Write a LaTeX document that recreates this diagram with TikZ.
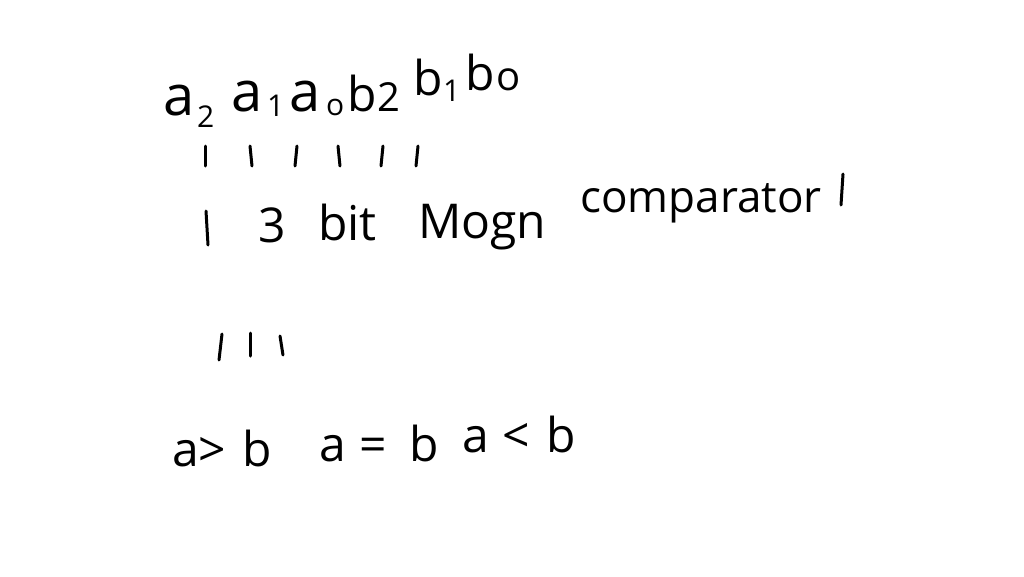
\documentclass[tikz,border=0pt]{standalone}
\usepackage{fontspec}
\setmainfont{Open Sans}
\begin{document}
\begin{tikzpicture}[x=1pt,y=-1pt,
  hw/.style={anchor=base west,inner sep=0pt,font=\fontsize{56}{64}\selectfont},
  hwb/.style={anchor=base west,inner sep=0pt,font=\fontsize{48}{56}\selectfont},
  hws/.style={anchor=base west,inner sep=0pt,font=\fontsize{30}{36}\selectfont},
  hwm/.style={anchor=base west,inner sep=0pt,font=\fontsize{40}{48}\selectfont},
  hwt/.style={anchor=base west,inner sep=0pt,font=\fontsize{48}{56}\selectfont},
  hwc/.style={anchor=base west,inner sep=0pt,font=\fontsize{44}{52}\selectfont},
  tick/.style={line width=3pt,line cap=round}]
\useasboundingbox[fill=white] (0,0) rectangle (1024,576);
% top row: inputs
\node[hw]  (a2) at (163,115) {a};
\node[hws] (a2s) at (197,127) {2};
\node[hw]  (a1) at (231,111) {a};
\node[hws] (a1s) at (267,116) {1};
\node[hw]  (a0) at (289,111) {a};
\node[hws] (a0s) at (326,115) {o};
\node[hwb] (b2) at (347,111) {b};
\node[hwm] (b2s) at (377,111) {2};
\node[hwb] (b1) at (413,95) {b};
\node[hws] (b1s) at (443,101) {1};
\node[hwb] (b0) at (465,90) {b};
\node[hwm] (b0s) at (496,90) {o};
% input ticks
\foreach \x/\t in {205/0,250/2,297/-2,338/2,383/-2,418/-2}
  \draw[tick] (\x,146) -- (\x+\t,166);
% comparator label
\draw[tick] (206,211) -- (208,245);
\node[hwt] (three) at (258,242) {3};
\node[hwt] (bit) at (318,240) {bit};
\node[hwt] (mogn) at (418,238) {Mogn};
\node[hwc] (comp) at (580,212) {comparator};
\draw[tick] (843,174) -- (841,205);
% output ticks
\draw[tick] (222,334) -- (219,360);
\draw[tick] (250,333) -- (250,356);
\draw[tick] (280,336) -- (283,355);
% outputs
\node[hwt] (gt) at (172,466) {a>\hspace{16pt}b};
\node[hwt] (eq) at (319,461) {a\hspace{14pt}=\hspace{22pt}b};
\node[hwt] (lt) at (462,452) {a\hspace{14pt}<\hspace{16pt}b};
\end{tikzpicture}
\end{document}
